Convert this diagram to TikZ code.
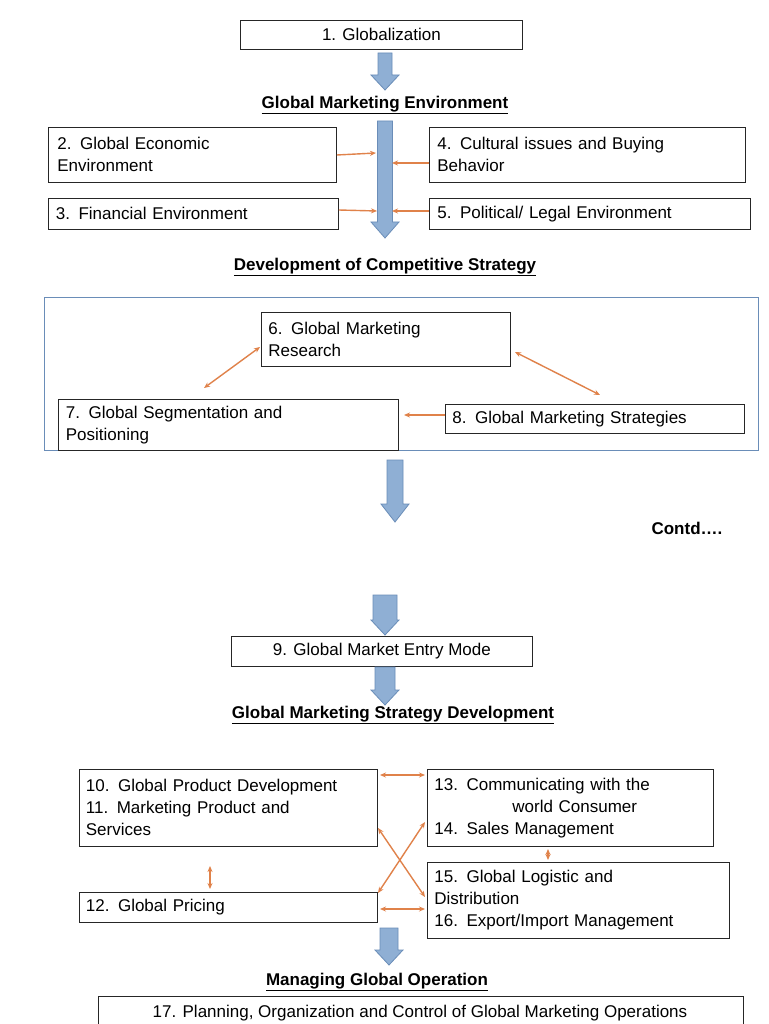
\documentclass[tikz,border=0pt]{standalone}
\usepackage{fontspec}
\setmainfont{Liberation Sans}
\usetikzlibrary{arrows.meta}
\definecolor{org}{HTML}{E0824A}
\definecolor{bfill}{HTML}{8FAFD4}
\definecolor{bline}{HTML}{6A8DB8}
\newcommand\blockarrow[5]{% cx, ytop, ytip, halfshaft, headheight
  \fill[bfill,draw=bline,line width=0.8pt] ({#1-#4},#2) -- ({#1+#4},#2) -- ({#1+#4},{#3-#5}) -- ({#1+14},{#3-#5}) -- (#1,#3) -- ({#1-14},{#3-#5}) -- ({#1-#4},{#3-#5}) -- cycle;}
\begin{document}
\begin{tikzpicture}[x=1pt,y=-1pt,
  box/.style={draw=black!85,line width=0.8pt,anchor=north west,inner sep=6pt,align=left,font=\fontsize{17}{22}\selectfont},
  cbox/.style={draw=black!85,line width=0.8pt,anchor=north west,inner sep=0pt,align=center,font=\fontsize{17}{22}\selectfont},
  ttl/.style={font=\fontsize{17}{20}\selectfont\bfseries},
  oa/.style={org,line width=1.4pt,{Stealth[length=6pt,width=5pt]}-{Stealth[length=6pt,width=5pt]}},
  ob/.style={org,line width=1.4pt,-{Stealth[length=6pt,width=5pt]}}]
\useasboundingbox (0,0) rectangle (768,1024);
\fill[white] (0,0) rectangle (768,1024);
% top
\node[cbox,minimum width=282pt,minimum height=29pt] (b1) at (240,20) {1. Globalization};
\blockarrow{385}{53}{90}{7}{15}
\node[ttl] (t1) at (385,105) {\underline{Global Marketing Environment}};
\blockarrow{385}{121}{238}{7.5}{16}
\node[box,minimum width=288pt,minimum height=55pt,text width=270pt] (b2) at (48,127) {2. Global Economic\\Environment};
\node[box,minimum width=316pt,minimum height=55pt,text width=300pt] (b4) at (429,127) {4. Cultural issues and Buying\\Behavior};
\node[box,minimum width=290pt,minimum height=31pt,text width=275pt] (b3) at (48,198) {3. Financial Environment};
\node[box,minimum width=321pt,minimum height=31pt,text width=305pt] (b5) at (429,198) {5. Political/ Legal Environment};
\coordinate (a2) at (376,153); \coordinate (a4) at (392,163);
\coordinate (a3) at (377,211); \coordinate (a5) at (392,211);
\draw[ob] (b2.east |- 0,155) -- (a2);
\draw[ob] (b4.west |- 0,163) -- (a4);
\draw[ob] (b3.east |- 0,210) -- (a3);
\draw[ob] (b5.west |- 0,211) -- (a5);
\node[ttl] (t2) at (385,267) {\underline{Development of Competitive Strategy}};
\draw[bline,line width=0.8pt] (44,297) rectangle (758,450);
\node[box,minimum width=249pt,minimum height=54pt,text width=235pt,fill=white] (b6) at (261,312) {6. Global Marketing\\Research};
\node[box,minimum width=340pt,minimum height=51pt,text width=325pt,fill=white] (b7) at (58,399) {7. Global Segmentation and\\Positioning};
\node[box,minimum width=299pt,minimum height=29pt,text width=285pt,fill=white] (b8) at (445,404) {8. Global Marketing Strategies};
\draw[oa] (260,347) -- (204,388);
\draw[oa] (515,352) -- (600,395);
\draw[ob] (b8.west |- 0,415) -- (404,415);
\blockarrow{395}{460}{522}{8}{18}
\node[ttl,anchor=west] (ct) at (648,528) {Contd….};
\blockarrow{385}{595}{635}{12}{15}
\node[cbox,minimum width=301pt,minimum height=30pt] (b9) at (231,636) {9. Global Market Entry Mode};
\blockarrow{385}{667}{705}{10}{15}
\node[ttl] (t3) at (393,715) {\underline{Global Marketing Strategy Development}};
\node[box,minimum width=298pt,minimum height=77pt,text width=285pt] (b10) at (79,769) {10. Global Product Development\\11. Marketing Product and\\Services};
\node[box,minimum width=286pt,minimum height=77pt,text width=272pt] (b13) at (427,769) {13. Communicating with the\\\hspace*{78pt}world Consumer\\14. Sales Management};
\node[box,minimum width=302pt,minimum height=76pt,text width=288pt] (b15) at (427,862) {15. Global Logistic and\\Distribution\\16. Export/Import Management};
\node[box,minimum width=298pt,minimum height=30pt,text width=285pt] (b12) at (79,892) {12. Global Pricing};
\draw[oa] (380,775) -- (425,775);
\draw[oa] (548,849) -- (548,860);
\draw[oa] (210,866) -- (210,889);
\draw[oa] (380,909) -- (425,909);
\draw[oa] (378,828) -- (425,897);
\draw[oa] (378,893) -- (425,822);
\blockarrow{389}{928}{965}{9}{15}
\node[ttl] (t4) at (377,982) {\underline{Managing Global Operation}};
\node[cbox,minimum width=645pt,minimum height=40pt,anchor=north west] (b17) at (98,996) {};
\node[font=\fontsize{17}{22}\selectfont] (t17) at (420,1013) {17. Planning, Organization and Control of Global Marketing Operations};
\end{tikzpicture}
\end{document}
